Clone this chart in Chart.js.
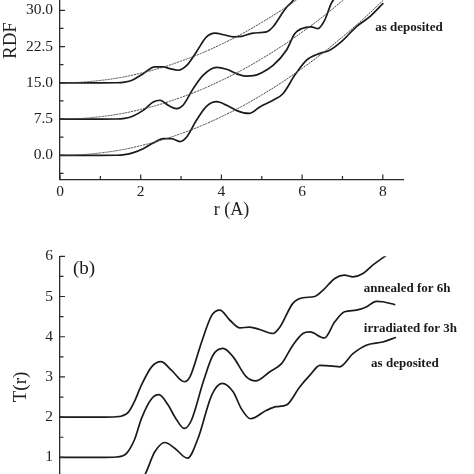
<!DOCTYPE html>
<html><head><meta charset="utf-8">
<script src="https://cdn.jsdelivr.net/npm/chart.js@4"></script>
<style>
html,body{margin:0;padding:0;background:#fff;overflow:hidden;width:474px;height:474px;}
#wrap{position:relative;width:474px;height:474px;overflow:hidden;background:#fff;}
canvas{position:absolute;left:0;}
#c1{top:-120px;}
#c2{top:240px;}
</style></head><body>
<div id="wrap">
<canvas id="c1" width="474" height="360"></canvas>
<canvas id="c2" width="474" height="340"></canvas>
</div>
<script>
// ---------- Panel (a): RDF ----------
const xTicks = [0, 2, 4, 6, 8];
const xMinor = [1, 3, 5, 7];
const rdfYTicks = [0, 7.5, 15, 22.5, 30, 37.5, 45];
const rdfYMinor = [-3.75, 3.75, 11.25, 18.75, 26.25, 33.75, 41.25, 48.75];

const rdfDepR = [0, 0.5, 1.0, 1.4, 1.6, 1.8, 2.06, 2.31, 2.56, 2.76, 2.97, 3.14, 3.38, 3.63, 3.88, 4.13, 4.37, 4.55, 4.7, 4.95, 5.28, 5.53, 5.82, 6.11, 6.44, 6.68, 7.01, 7.34, 7.67, 7.92, 8.0];
const rdfDepV = [0, 0, 0, 0.02, 0.15, 0.5, 1.38, 2.55, 3.45, 3.45, 2.85, 3.8, 7.25, 10.15, 11.1, 10.36, 9.3, 8.8, 8.7, 10.0, 11.4, 12.8, 16.6, 19.7, 21.1, 21.75, 23.8, 26.6, 28.65, 30.7, 31.4];

const rdfIrrR = [0, 0.5, 1.0, 1.4, 1.6, 1.8, 2.06, 2.31, 2.48, 2.68, 2.89, 3.05, 3.3, 3.55, 3.88, 4.13, 4.37, 4.6, 4.8, 5.0, 5.28, 5.61, 5.82, 5.98, 6.23, 6.39, 6.56, 6.72, 6.81, 6.95];
const rdfIrrV = [7.5, 7.5, 7.5, 7.52, 7.65, 8.1, 9.3, 11.05, 11.4, 10.36, 9.67, 10.36, 13.8, 16.6, 18.2, 17.8, 16.9, 16.4, 16.5, 17.1, 18.6, 21.75, 25.2, 26.2, 26.6, 26.2, 27.97, 31.4, 32.6, 35.0];

const rdfAnnR = [0, 0.5, 1.0, 1.4, 1.6, 1.8, 2.06, 2.35, 2.56, 2.72, 2.93, 3.14, 3.38, 3.63, 3.84, 4.08, 4.3, 4.5, 4.79, 5.12, 5.28, 5.4, 5.53, 5.61, 5.78, 5.95];
const rdfAnnV = [15, 15, 15, 15.02, 15.15, 15.6, 16.9, 18.3, 18.3, 17.95, 17.6, 18.6, 21.4, 24.5, 25.3, 24.9, 24.5, 24.6, 25.3, 25.55, 26.6, 28.0, 29.7, 30.6, 32.1, 35.0];

const baseR = [0, 0.5, 1.0, 1.5, 2.0, 2.5, 3.0, 3.5, 4.0, 4.5, 5.0, 5.5, 6.0, 6.5, 7.0, 7.5, 8.0];
const dotDepV = [0, 0.12, 0.5, 1.1, 2.0, 3.1, 4.5, 6.1, 8.0, 10.1, 12.5, 15.1, 18.0, 21.1, 24.5, 28.1, 32.0];
const dotIrrV = [7.5, 7.62, 8.0, 8.6, 9.5, 10.6, 12.0, 13.6, 15.5, 17.6, 20.0, 22.6, 25.5, 28.6, 32.0, 35.6, 39.5];
const dotAnnV = [15, 15.12, 15.5, 16.1, 17.0, 18.1, 19.5, 21.1, 23.0, 25.1, 27.5, 30.1, 33.0, 36.1, 39.5, 43.1, 47.0];

// ---------- Panel (b): T(r) ----------
const trYTicks = [0, 1, 2, 3, 4, 5, 6];
const trYMinor = [0.5, 1.5, 2.5, 3.5, 4.5, 5.5];

const trAnnR = [0, 0.5, 1.0, 1.4, 1.53, 1.69, 1.85, 2.02, 2.27, 2.5, 2.76, 3.08, 3.22, 3.51, 3.76, 3.96, 4.21, 4.46, 4.7, 4.95, 5.28, 5.45, 5.77, 6.02, 6.31, 6.52, 6.81, 7.05, 7.26, 7.51, 7.75, 8.08];
const trAnnV = [2, 2, 2, 2.01, 2.03, 2.12, 2.4, 2.8, 3.25, 3.38, 3.17, 2.88, 3.0, 3.87, 4.53, 4.66, 4.41, 4.22, 4.24, 4.18, 4.08, 4.24, 4.83, 4.97, 5.0, 5.16, 5.45, 5.53, 5.49, 5.57, 5.78, 6.02];

const trIrrR = [0, 0.5, 1.0, 1.4, 1.53, 1.65, 1.85, 2.02, 2.27, 2.45, 2.68, 2.85, 3.08, 3.26, 3.55, 3.79, 4.04, 4.29, 4.62, 4.85, 5.2, 5.49, 5.77, 6.02, 6.19, 6.55, 6.81, 7.05, 7.34, 7.59, 7.84, 8.0, 8.29];
const trIrrV = [1, 1, 1, 1.01, 1.03, 1.1, 1.45, 1.97, 2.46, 2.56, 2.3, 2.0, 1.72, 1.93, 2.88, 3.54, 3.71, 3.5, 3.0, 2.9, 3.13, 3.33, 3.79, 4.08, 4.12, 3.97, 4.37, 4.62, 4.66, 4.74, 4.88, 4.87, 4.8];

const trDepR = [0, 0.5, 1.0, 1.4, 1.55, 1.7, 1.9, 2.1, 2.35, 2.6, 2.85, 3.16, 3.42, 3.76, 4.02, 4.29, 4.5, 4.72, 5.12, 5.36, 5.61, 5.94, 6.2, 6.44, 6.77, 6.93, 7.26, 7.59, 8.0, 8.31];
const trDepV = [0, 0, 0, 0.01, 0.04, 0.13, 0.3, 0.56, 1.14, 1.37, 1.22, 0.98, 1.47, 2.55, 2.84, 2.63, 2.2, 1.96, 2.17, 2.26, 2.3, 2.75, 3.05, 3.29, 3.27, 3.25, 3.58, 3.79, 3.87, 3.98];

// ---------- helpers ----------
const SERIF = '"Liberation Serif", "DejaVu Serif", serif';
const INK = '#1a1a1a';
function pts(rs, vs) { return rs.map((r, i) => ({ x: r, y: vs[i] })); }
function solid(rs, vs) {
  return { data: pts(rs, vs), borderColor: INK, borderWidth: 1.7, pointRadius: 0, fill: false, cubicInterpolationMode: 'monotone' };
}
function dotted(rs, vs) {
  return { data: pts(rs, vs), borderColor: '#4a4a4a', borderWidth: 1, borderDash: [1.4, 1.6], pointRadius: 0, fill: false, tension: 0.4 };
}
function tickPlugin(id, yMajor, yMinor, labels) {
  return {
    id: id,
    afterDraw(chart) {
      const ctx = chart.ctx, xs = chart.scales.x, ys = chart.scales.y, ca = chart.chartArea;
      ctx.save();
      ctx.strokeStyle = '#2a2a2a';
      ctx.lineWidth = 1.2;
      ctx.beginPath();
      xTicks.forEach(v => { const p = xs.getPixelForValue(v); ctx.moveTo(p, ca.bottom); ctx.lineTo(p, ca.bottom - 5); });
      xMinor.forEach(v => { const p = xs.getPixelForValue(v); ctx.moveTo(p, ca.bottom); ctx.lineTo(p, ca.bottom - 3.5); });
      yMajor.forEach(v => { const p = ys.getPixelForValue(v); ctx.moveTo(ca.left, p); ctx.lineTo(ca.left + 5, p); });
      yMinor.forEach(v => { const p = ys.getPixelForValue(v); ctx.moveTo(ca.left, p); ctx.lineTo(ca.left + 3.5, p); });
      ctx.stroke();
      ctx.fillStyle = '#1a1a1a';
      ctx.textBaseline = 'middle';
      ctx.textAlign = 'left';
      labels.forEach(l => {
        ctx.font = l.font;
        ctx.fillText(l.text, xs.getPixelForValue(l.r), ys.getPixelForValue(l.v));
      });
      ctx.restore();
    }
  };
}
function axes(yMin, yMax, yTicks, yFmt, yTitle, yTitlePad, xHeight) {
  return {
    x: {
      type: 'linear', min: 0, max: 8.5,
      afterBuildTicks: s => { s.ticks = xTicks.map(v => ({ value: v })); },
      afterFit: s => { s.height = xHeight; },
      grid: { display: false, drawTicks: false },
      border: { display: true, color: '#2a2a2a', width: 1.3 },
      ticks: { color: '#222', font: { family: SERIF, size: 15.5 }, padding: 3, maxRotation: 0, autoSkip: false, callback: v => String(v) },
      title: { display: true, text: 'r (A)', color: '#222', font: { family: SERIF, size: 18 }, padding: 0 }
    },
    y: {
      type: 'linear', min: yMin, max: yMax,
      afterBuildTicks: s => { s.ticks = yTicks.map(v => ({ value: v })); },
      afterFit: s => { s.width = 60; },
      grid: { display: false, drawTicks: false },
      border: { display: true, color: '#2a2a2a', width: 1.3 },
      ticks: { color: '#222', font: { family: SERIF, size: 15.5 }, padding: 7, autoSkip: false, callback: yFmt },
      title: { display: true, text: yTitle, color: '#222', font: { family: SERIF, size: 19 }, padding: { top: yTitlePad, bottom: 0 } }
    }
  };
}
const baseOpts = {
  responsive: false, animation: false, devicePixelRatio: 1,
  plugins: { legend: { display: false }, tooltip: { enabled: false } },
  elements: { line: { borderCapStyle: 'round', borderJoinStyle: 'round' } }
};

// ---------- chart (a) ----------
new Chart(document.getElementById('c1'), {
  type: 'line',
  data: {
    datasets: [
      dotted(baseR, dotDepV), dotted(baseR, dotIrrV), dotted(baseR, dotAnnV),
      solid(rdfDepR, rdfDepV), solid(rdfIrrR, rdfIrrV), solid(rdfAnnR, rdfAnnV)
    ]
  },
  options: Object.assign({}, baseOpts, {
    layout: { padding: { top: 21.6, right: 71, bottom: 19.2, left: 0 } },
    scales: axes(-5, 52.5, rdfYTicks, v => Number(v).toFixed(1), 'RDF', 0, 41.3)
  }),
  plugins: [tickPlugin('ticksA', rdfYTicks, rdfYMinor, [
    { text: 'as deposited', r: 7.81, v: 26.35, font: 'bold 13px ' + SERIF }
  ])]
});

// ---------- chart (b) ----------
new Chart(document.getElementById('c2'), {
  type: 'line',
  data: {
    datasets: [solid(trDepR, trDepV), solid(trIrrR, trIrrV), solid(trAnnR, trAnnV)]
  },
  options: Object.assign({}, baseOpts, {
    layout: { padding: { top: 16, right: 71, bottom: 0, left: 0 } },
    scales: axes(-0.5, 6, trYTicks, v => String(v), 'T(r)', 9.6, 62.3)
  }),
  plugins: [tickPlugin('ticksB', trYTicks, trYMinor, [
    { text: '(b)', r: 0.32, v: 5.68, font: '19px ' + SERIF },
    { text: 'annealed for 6h', r: 7.53, v: 5.2, font: 'bold 13px ' + SERIF },
    { text: 'irradiated for 3h', r: 7.53, v: 4.19, font: 'bold 13px ' + SERIF },
    { text: 'as deposited', r: 7.71, v: 3.32, font: 'bold 13px ' + SERIF }
  ])]
});
</script>
</body></html>
